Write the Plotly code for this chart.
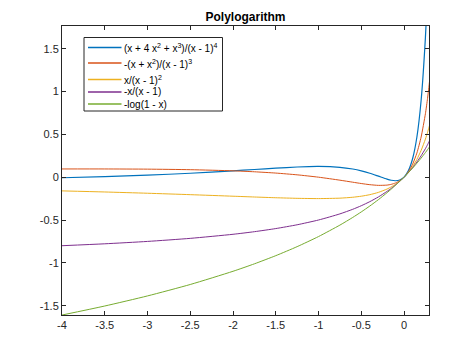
import plotly.graph_objects as go

x = [-4, -3.5, -3, -2.5, -2, -1.75, -1.5, -1.25, -1, -0.75, -0.6, -0.5, -0.4, -0.3,
     -0.2, -0.15, -0.1, -0.05, 0, 0.05, 0.1, 0.15, 0.2, 0.25, 0.275, 0.29, 0.3]

li_m3 = [-0.0064, 0.0064, 0.0234, 0.0458, 0.0741, 0.0899, 0.1056, 0.1189, 0.125, 0.1150,
         0.0952, 0.0741, 0.0458, 0.0116, -0.0231, -0.0362, -0.0417, -0.0330, 0.0,
         0.0738, 0.2149, 0.4662, 0.8984, 1.6296, 2.1656, 2.561, 2.8613]
li_m2 = [0.096, 0.0960, 0.09375, 0.0875, 0.0741, 0.0631, 0.048, 0.0274, 0.0, -0.0350,
         -0.0586, -0.0741, -0.0875, -0.0956, -0.0926, -0.0838, -0.0676, -0.0410, 0.0,
         0.0612, 0.1509, 0.2809, 0.4688, 0.7407, 0.9201, 1.0452, 1.1370]
li_m1 = [-0.16, -0.1728, -0.1875, -0.2041, -0.2222, -0.2314, -0.24, -0.2469, -0.25, -0.2449,
         -0.2344, -0.2222, -0.2041, -0.1775, -0.1389, -0.1134, -0.0826, -0.0454, 0.0,
         0.0554, 0.1235, 0.2076, 0.3125, 0.4444, 0.5232, 0.5753, 0.6122]
li_0 = [-0.8, -0.7778, -0.75, -0.7143, -0.6667, -0.6364, -0.6, -0.5556, -0.5, -0.4286,
        -0.375, -0.3333, -0.2857, -0.2308, -0.1667, -0.1304, -0.0909, -0.0476, 0.0,
        0.0526, 0.1111, 0.1765, 0.25, 0.3333, 0.3793, 0.4085, 0.4286]
li_1 = [-1.6094, -1.5041, -1.3863, -1.2528, -1.0986, -1.0116, -0.9163, -0.8109, -0.6931, -0.5596,
        -0.4700, -0.4055, -0.3365, -0.2624, -0.1823, -0.1398, -0.0953, -0.0488, 0.0,
        0.0513, 0.1054, 0.1625, 0.2231, 0.2877, 0.3216, 0.3425, 0.3567]

names = ["(x + 4 x<sup>2</sup> + x<sup>3</sup>)/(x - 1)<sup>4</sup>",
         "-(x + x<sup>2</sup>)/(x - 1)<sup>3</sup>",
         "x/(x - 1)<sup>2</sup>",
         "-x/(x - 1)",
         "-log(1 - x)"]
colors = ["#0072BD", "#D95319", "#EDB120", "#7E2F8E", "#77AC30"]
widths = [1.2, 1.0, 1.0, 1.0, 1.0]
series = [li_m3, li_m2, li_m1, li_0, li_1]

x_ticks = [-4, -3.5, -3, -2.5, -2, -1.5, -1, -0.5, 0]
y_ticks = [-1.5, -1, -0.5, 0, 0.5, 1, 1.5]

# plot-area geometry in pixels (for the hand-drawn legend)
L, R, T, B = 62, 429, 26, 315
W, H = R - L, B - T
def px(p):
    return (p - L) / W
def py(p):
    return (B - p) / H

fig = go.Figure()
for ys, nm, c, w in zip(series, names, colors, widths):
    fig.add_trace(go.Scatter(x=x, y=ys, mode="lines", name=nm, showlegend=False,
                             line=dict(color=c, width=w, shape="spline", smoothing=0.6)))

axis_common = dict(showgrid=False, zeroline=False, showline=True, linecolor="#262626",
                   linewidth=1, mirror="ticks", ticks="inside", ticklen=4,
                   tickcolor="#262626", tickfont=dict(family="Liberation Sans, Arial", size=11, color="#262626"))

# legend (compact, MATLAB style)
shapes = [dict(type="rect", xref="paper", yref="paper", x0=px(84), x1=px(222.5), y0=py(111), y1=py(37.5),
               line=dict(color="#262626", width=1), fillcolor="white", layer="above")]
annotations = []
row_y = [47.5, 63, 79.5, 92, 104]
text_dy = [0.5, 0.5, 0.5, 0, 0]
for yy, dy, nm, c in zip(row_y, text_dy, names, colors):
    shapes.append(dict(type="line", xref="paper", yref="paper", x0=px(88), x1=px(121.5),
                       y0=py(yy), y1=py(yy), line=dict(color=c, width=1.4), layer="above"))
    annotations.append(dict(xref="paper", yref="paper", x=px(122.5), y=py(yy + dy), text=nm,
                            showarrow=False, xanchor="left", yanchor="middle", borderpad=0,
                            font=dict(family="Liberation Sans, Arial", size=10, color="black")))

fig.update_layout(
    width=474, height=355,
    margin=dict(l=L, r=474 - R, t=T, b=355 - B),
    paper_bgcolor="white", plot_bgcolor="white",
    title=dict(text="<b>Polylogarithm</b>", x=(L + R) / 2 / 474, xanchor="center",
               y=1 - 17 / 355, yanchor="middle",
               font=dict(family="Liberation Sans, Arial", size=12, color="black")),
    xaxis=dict(range=[-4, 0.292], tickvals=x_ticks, ticktext=[str(v) for v in x_ticks], **axis_common),
    yaxis=dict(range=[-1.609, 1.765], tickvals=y_ticks, ticktext=[str(v) for v in y_ticks], **axis_common),
    shapes=shapes,
    annotations=annotations,
    showlegend=False,
)

fig.write_html("out.html")
